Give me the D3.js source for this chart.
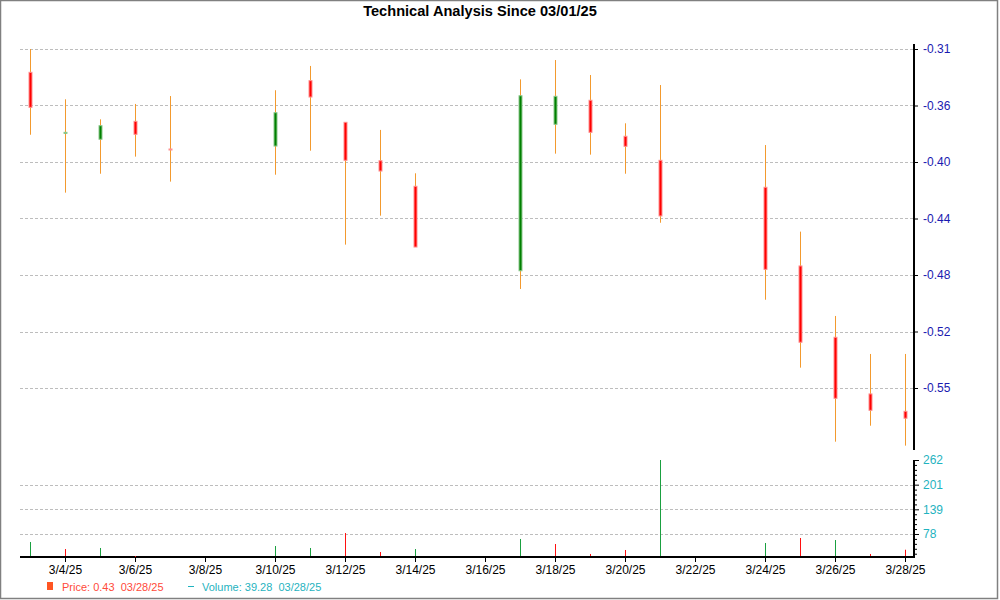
<!DOCTYPE html>
<html>
<head>
<meta charset="utf-8">
<script src="https://cdn.jsdelivr.net/npm/d3@7/dist/d3.min.js"></script>
<style>
  body { margin: 0; background: #fff; }
  svg { display: block; font-family: Arial, "Liberation Sans", sans-serif; }
  text { white-space: pre; }
</style>
</head>
<body>
<svg id="chart" width="1000" height="600"></svg>
<script>
// ---- Data ----
const dates = ["2025-03-03","2025-03-04","2025-03-05","2025-03-06","2025-03-07",
               "2025-03-10","2025-03-11","2025-03-12","2025-03-13","2025-03-14",
               "2025-03-17","2025-03-18","2025-03-19","2025-03-20","2025-03-21",
               "2025-03-24","2025-03-25","2025-03-26","2025-03-27","2025-03-28"];
const openV  = [-0.3265,-0.3695,-0.3739,-0.3612,-0.3808,-0.3787,-0.3324,-0.3619,-0.3891,-0.4072,
                -0.4670,-0.3633,-0.3463,-0.3718,-0.3888,-0.4079,-0.4636,-0.5141,-0.5542,-0.5665];
const highV  = [-0.3100,-0.3456,-0.3598,-0.3489,-0.3433,-0.3392,-0.3220,-0.3619,-0.3673,-0.3980,
                -0.3315,-0.3178,-0.3284,-0.3626,-0.3355,-0.3780,-0.4393,-0.4990,-0.5259,-0.5259];
const lowV   = [-0.3707,-0.4117,-0.3983,-0.3862,-0.4039,-0.3990,-0.3820,-0.4485,-0.4280,-0.4502,
                -0.4799,-0.3841,-0.3848,-0.3983,-0.4330,-0.4875,-0.5356,-0.5880,-0.5767,-0.5908];
const closeV = [-0.3513,-0.3690,-0.3643,-0.3704,-0.3812,-0.3551,-0.3440,-0.3888,-0.3964,-0.4502,
                -0.3431,-0.3435,-0.3690,-0.3789,-0.4282,-0.4660,-0.5176,-0.5573,-0.5658,-0.5714];
const volume = [58.5,41,43.6,21.2,23.7,48.5,43.6,80.8,33.6,41,
                66,53.5,28.7,38.6,262.3,56,68.4,63.4,28.7,39.28];
const volDir = ["u","d","u","d","d","u","u","d","d","u",
                "u","d","d","d","u","u","d","u","d","d"];
const priceTickValues = [-0.31,-0.35,-0.39,-0.43,-0.47,-0.51,-0.55];
const priceTickLabels = ["-0.31","-0.36","-0.40","-0.44","-0.48","-0.52","-0.55"];
const volTickValues = [78.4,139.7,201.0,262.3];
const volTickLabels = ["78","139","201","262"];
const dateTicks = ["2025-03-04","2025-03-06","2025-03-08","2025-03-10","2025-03-12","2025-03-14",
                   "2025-03-16","2025-03-18","2025-03-20","2025-03-22","2025-03-24","2025-03-26","2025-03-28"];
const titleText = "Technical Analysis Since 03/01/25";
const legendPrice = "Price: 0.43  03/28/25";
const legendVolume = "Volume: 39.28  03/28/25";

// ---- Setup ----
const parse = d3.timeParse("%Y-%m-%d");
const data = dates.map((d,i)=>({date:parse(d),o:openV[i],h:highV[i],l:lowV[i],c:closeV[i],v:volume[i],dir:volDir[i]}));
const svg = d3.select("#chart");
const plotL = 20, axisX = 914;

const x = d3.scaleTime().domain([parse("2025-03-03"), parse("2025-03-28")]).range([30, 905]);
const y = d3.scaleLinear().domain([-0.31, -0.55]).range([49, 388]);
const yv = d3.scaleLinear().domain([21.2, 262.3]).range([557, 460]);

// border
svg.append("rect").attr("x",0.5).attr("y",0.5).attr("width",997).attr("height",598)
  .attr("fill","none").attr("stroke","#808080").attr("stroke-width",1.5);

// title
svg.append("text").attr("x",480).attr("y",16).attr("text-anchor","middle")
  .attr("font-size",14.6).attr("font-weight","bold").attr("fill","#000").text(titleText);

// gridlines
const grid = svg.append("g").attr("stroke","#bdbdbd").attr("stroke-dasharray","3,2").attr("stroke-width",1);
priceTickValues.forEach(v=>{
  const yy = Math.round(y(v))+0.5;
  grid.append("line").attr("x1",plotL).attr("x2",axisX).attr("y1",yy).attr("y2",yy);
});
volTickValues.slice(0,3).forEach(v=>{
  const yy = Math.round(yv(v))+0.5;
  grid.append("line").attr("x1",plotL).attr("x2",axisX).attr("y1",yy).attr("y2",yy);
});

// price axis (right)
const pAxis = d3.axisRight(y).tickValues(priceTickValues).tickSize(4).tickPadding(5)
  .tickFormat((d,i)=>priceTickLabels[i]);
const pg = svg.append("g").attr("transform",`translate(${axisX},0)`).call(pAxis);
pg.select(".domain").remove();
pg.selectAll(".tick line").attr("stroke","#000");
pg.selectAll(".tick text").attr("fill","#1a1ab0").attr("font-size",12).attr("font-family","Arial, sans-serif");
svg.append("line").attr("x1",axisX).attr("x2",axisX).attr("y1",44).attr("y2",450)
  .attr("stroke","#000").attr("stroke-width",2);

// volume axis (right)
const vAxis = d3.axisRight(yv).tickValues(volTickValues).tickSize(5).tickPadding(4)
  .tickFormat((d,i)=>volTickLabels[i]);
const vg = svg.append("g").attr("transform",`translate(${axisX},0)`).call(vAxis);
vg.select(".domain").remove();
vg.selectAll(".tick line").attr("stroke","#000");
vg.selectAll(".tick text").attr("fill","#1fb3c0").attr("font-size",12).attr("font-family","Arial, sans-serif");
// minor ticks
const minorStep = (volTickValues[1]-volTickValues[0])/5;
const minors = [];
for (let v = volTickValues[0] - minorStep*4; v < volTickValues[3]; v += minorStep) {
  if (!volTickValues.some(t=>Math.abs(t-v)<1e-6) && v > 21.2) minors.push(v);
}
const vMinor = d3.axisRight(yv).tickValues(minors).tickSize(3).tickFormat("");
const vmg = svg.append("g").attr("transform",`translate(${axisX},0)`).call(vMinor);
vmg.select(".domain").remove();
svg.append("line").attr("x1",axisX).attr("x2",axisX).attr("y1",460).attr("y2",558)
  .attr("stroke","#000").attr("stroke-width",2);

// x axis
const xAxis = d3.axisBottom(x).tickValues(dateTicks.map(parse)).tickSize(5).tickPadding(3)
  .tickFormat(d3.timeFormat("%-m/%-d/%y"));
const xg = svg.append("g").attr("transform","translate(0,557)").call(xAxis);
xg.select(".domain").remove();
xg.selectAll(".tick text").attr("fill","#000").attr("font-size",12).attr("font-family","Arial, sans-serif");
svg.append("line").attr("x1",plotL).attr("x2",axisX+1).attr("y1",557).attr("y2",557)
  .attr("stroke","#000").attr("stroke-width",2);

// volume bars
svg.append("g").selectAll("line").data(data).join("line")
  .attr("x1",d=>Math.round(x(d.date))+0.5).attr("x2",d=>Math.round(x(d.date))+0.5)
  .attr("y1",d=>yv(d.v)).attr("y2",556)
  .attr("stroke",d=>d.dir==="u"?"#1aa040":"#ff1010").attr("stroke-width",1);

// candles
const cg = svg.append("g");
cg.selectAll("line").data(data).join("line")
  .attr("x1",d=>Math.round(x(d.date))+0.5).attr("x2",d=>Math.round(x(d.date))+0.5)
  .attr("y1",d=>y(d.h)).attr("y2",d=>y(d.l))
  .attr("stroke","#f39a2e").attr("stroke-width",1);
cg.selectAll("rect").data(data).join("rect")
  .attr("x",d=>Math.round(x(d.date))-1.5+0.5)
  .attr("width",3)
  .attr("y",d=>Math.min(y(d.o),y(d.c)))
  .attr("height",d=>Math.max(1,Math.abs(y(d.o)-y(d.c))))
  .attr("fill",d=>d.c>=d.o?"#008000":"#ff0000")
  .attr("stroke",d=>d.c>=d.o?"#8cc88c":"#ff9090")
  .attr("stroke-width",1);

// legend
svg.append("rect").attr("x",47).attr("y",582).attr("width",6).attr("height",8).attr("fill","#ff5522");
svg.append("text").attr("x",62).attr("y",591).attr("font-size",11).attr("fill","#ff4a3a").text(legendPrice);
svg.append("line").attr("x1",188).attr("x2",194).attr("y1",586.5).attr("y2",586.5).attr("stroke","#1fb3c0").attr("stroke-width",1);
svg.append("text").attr("x",202).attr("y",591).attr("font-size",11).attr("fill","#1fb3c0").text(legendVolume);
</script>
</body>
</html>
